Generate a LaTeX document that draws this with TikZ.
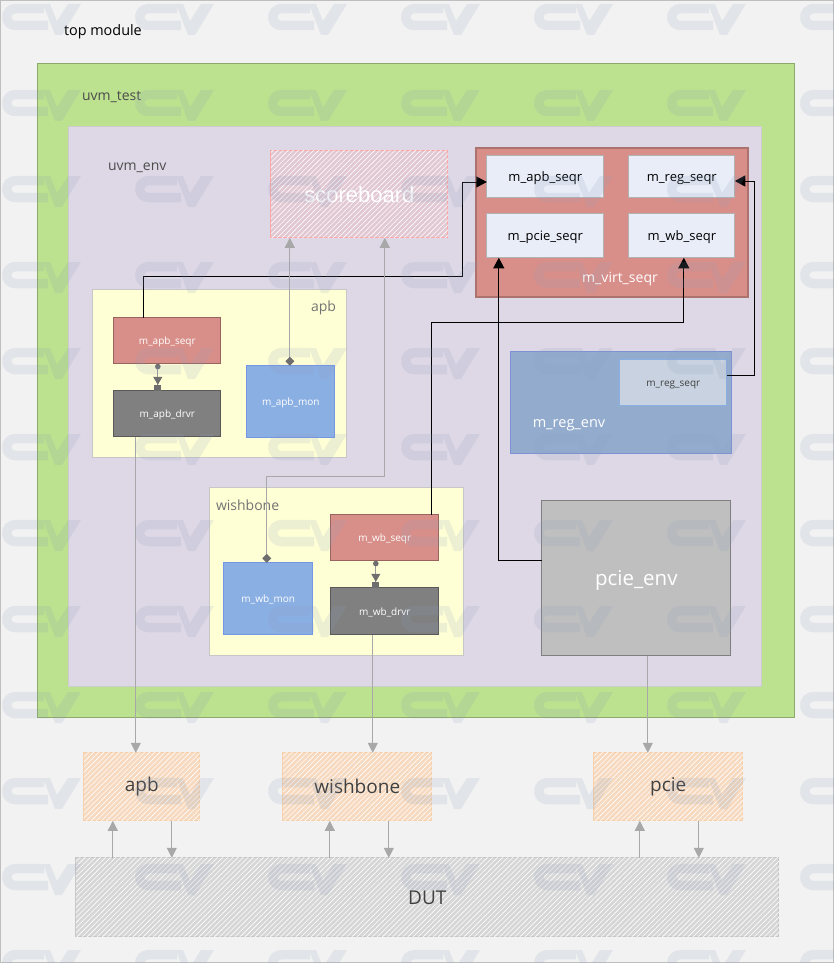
\documentclass[tikz,border=0pt]{standalone}
\usepackage{fontspec}
\setmainfont{Open Sans}
\newfontfamily\arialfont{Liberation Sans}
\usetikzlibrary{arrows.meta,patterns.meta}
\definecolor{pagebg}{HTML}{F2F2F2}
\definecolor{testgreen}{HTML}{BCE28F}
\definecolor{envlilac}{HTML}{DED8E6}
\definecolor{seqrred}{HTML}{D98F89}
\definecolor{seqrlite}{HTML}{E8EDF8}
\definecolor{agentyellow}{HTML}{FFFFD6}
\definecolor{monblue}{HTML}{8AAFE3}
\definecolor{regblue}{HTML}{93ACCE}
\definecolor{ifcorange}{HTML}{F6D9BE}
\definecolor{boardpink}{HTML}{E1C8D3}
\definecolor{wiregray}{HTML}{A8A8A8}
\definecolor{tipgray}{HTML}{6E6E6E}
\definecolor{logoblue}{HTML}{8C9CB8}
\tikzset{
  blockbox/.style={draw,rectangle,inner sep=0pt,outer sep=0pt,line width=1pt,align=center,xshift=-.2pt,yshift=.2pt},
  hatched/.style={postaction={pattern={Lines[angle=45,distance=3.6pt,line width=.6pt]},pattern color=white}},
  seqrbox/.style={blockbox,fill=seqrred,draw=seqrred!70!black,text=white,text height=7.5pt,text depth=0pt,font=\fontsize{10}{11}\selectfont},
  drvrbox/.style={blockbox,fill=black!50,draw=black!65,text=white,text height=7.5pt,text depth=0pt,font=\fontsize{10}{11}\selectfont},
  monbox/.style={blockbox,fill=monblue,draw=monblue!85!blue,text=white,text height=7.5pt,text depth=0pt,font=\fontsize{10}{11}\selectfont},
  subseqr/.style={blockbox,fill=seqrlite,draw=black!30,text=black,text height=10pt,text depth=0pt,font=\fontsize{13}{14}\selectfont},
  agentbox/.style={blockbox,fill=agentyellow,draw=black!22},
  ifcbox/.style={blockbox,fill=ifcorange,draw=ifcorange!90!orange,hatched,text=black!75,font=\fontsize{19}{22}\selectfont},
  blackwire/.style={draw=black,line width=1pt,-{Triangle[length=10.5pt,width=11pt]}},
  graywire/.style={draw=wiregray,line width=1pt,-{Triangle[length=10pt,width=10pt]}},
  monwire/.style={draw=wiregray,line width=1pt,{Diamond[length=9pt,width=9pt,fill=tipgray,color=tipgray]}-{Triangle[length=10pt,width=10pt]}},
  drvwire/.style={draw=tipgray!70,line width=1pt,{Circle[length=5.5pt,fill=tipgray,color=tipgray]}-{Triangle[length=8pt,width=9pt,fill=tipgray,color=tipgray]Square[length=6pt,width=7pt,fill=tipgray,color=tipgray]}},
  tag/.style={inner sep=0pt,outer sep=0pt}
}
\begin{document}
\begin{tikzpicture}[x=1pt,y=-1pt]
\useasboundingbox (0,0) rectangle (834,963);
% page
\node[blockbox,fill=pagebg,draw=black!25,line width=1.5pt,minimum width=833pt,minimum height=962pt] (page) at (417,481.5) {};
\node[tag,anchor=west,font=\fontsize{14.4}{16}\selectfont] (topname) at (64,32) {top module};
% nested blocks
\node[blockbox,fill=testgreen,draw=testgreen!75!black,minimum width=757pt,minimum height=654pt] (uvmtest) at (416.5,391) {};
\node[tag,anchor=west,text=black!70,font=\fontsize{14}{16}\selectfont] (testname) at (82,97) {uvm\_test};
\node[blockbox,fill=envlilac,draw=black!20,minimum width=693pt,minimum height=560pt] (uvmenv) at (415.5,407) {};
\node[tag,anchor=west,text=black!70,font=\fontsize{14}{16}\selectfont] (envname) at (108,168) {uvm\_env};
\node[blockbox,fill=boardpink,draw=red!35!white,hatched,text=white,minimum width=177pt,minimum height=87pt,font=\arialfont\fontsize{22}{24}\selectfont] (scoreboard) at (359.5,194.5) {scoreboard};
% virtual sequencer
\node[blockbox,fill=seqrred,draw=seqrred!80!black,line width=1.5pt,minimum width=272pt,minimum height=149pt] (virtseqr) at (612,222.5) {};
\node[tag,text=white,font=\fontsize{14}{16}\selectfont] (virtname) at (620,279.5) {m\_virt\_seqr};
\node[subseqr,minimum width=117pt,minimum height=42pt] (vapbseqr) at (545.5,177) {m\_apb\_seqr};
\node[subseqr,minimum width=106pt,minimum height=42pt] (vregseqr) at (682,177) {m\_reg\_seqr};
\node[subseqr,minimum width=117pt,minimum height=44pt] (vpcieseqr) at (545.5,236) {m\_pcie\_seqr};
\node[subseqr,minimum width=106pt,minimum height=44pt] (vwbseqr) at (682,236) {m\_wb\_seqr};
% apb agent
\node[agentbox,minimum width=254pt,minimum height=168pt] (apbagent) at (220,374) {};
\node[tag,anchor=east,text=black!55,font=\fontsize{14}{16}\selectfont] (apbname) at (336,308) {apb};
\node[seqrbox,minimum width=107pt,minimum height=46pt] (apbseqr) at (167.5,341) {m\_apb\_seqr};
\node[drvrbox,minimum width=107pt,minimum height=46pt] (apbdrvr) at (167.5,414) {m\_apb\_drvr};
\node[monbox,minimum width=88pt,minimum height=72pt] (apbmon) at (291,402) {m\_apb\_mon};
% wishbone agent
\node[agentbox,minimum width=254pt,minimum height=168pt] (wbagent) at (337,572) {};
\node[tag,anchor=west,text=black!55,font=\fontsize{14}{16}\selectfont] (wbname) at (216,505) {wishbone};
\node[seqrbox,minimum width=108pt,minimum height=46pt] (wbseqr) at (385,538) {m\_wb\_seqr};
\node[drvrbox,minimum width=108pt,minimum height=47pt] (wbdrvr) at (385,611.5) {m\_wb\_drvr};
\node[monbox,minimum width=89pt,minimum height=72pt] (wbmon) at (268.5,599) {m\_wb\_mon};
% reg and pcie env
\node[blockbox,fill=regblue,draw=regblue!85!blue,minimum width=221pt,minimum height=102pt] (regenv) at (621.5,403) {};
\node[tag,text=white,font=\fontsize{14.5}{16}\selectfont] (regname) at (569,425) {m\_reg\_env};
\node[blockbox,fill=black!10!regblue!45!white,draw=monblue,text=black!75,text height=7.5pt,text depth=0pt,minimum width=107pt,minimum height=46pt,font=\fontsize{10}{11}\selectfont] (regseqr) at (673.5,383) {m\_reg\_seqr};
\node[blockbox,fill=black!25,draw=black!50,text=white,text height=15pt,text depth=0pt,minimum width=189pt,minimum height=155pt,font=\fontsize{20.5}{24}\selectfont] (pcieenv) at (636.5,578.5) {pcie\_env};
% interfaces and dut
\node[ifcbox,minimum width=116pt,minimum height=68pt] (apbifc) at (142,787) {apb};
\node[ifcbox,minimum width=149pt,minimum height=68pt] (wbifc) at (357.5,787) {wishbone};
\node[ifcbox,minimum width=149pt,minimum height=68pt] (pcieifc) at (668.5,787) {pcie};
\node[blockbox,fill=black!16,draw=black!22,hatched,text=black!75,minimum width=703pt,minimum height=79pt,font=\fontsize{19}{22}\selectfont] (dut) at (427.5,897.5) {DUT};
% black connectors
\draw[blackwire] ([xshift=-23.5pt]apbseqr.north) |- ++(319,-41) |- (vapbseqr.west |- 0,182);
\draw[blackwire] ([xshift=47pt]wbseqr.north) |- ++(252,-192) -- ([xshift=2pt]vwbseqr.south);
\draw[blackwire] (pcieenv.west |- 0,560) -| ([xshift=-46.5pt]vpcieseqr.south);
\draw[blackwire] (regseqr.east |- 0,375) -| ++(28,-194) -- (vregseqr.east |- 0,181);
% gray connectors
\draw[monwire] ([xshift=-1pt]apbmon.north) -- ([xshift=-69.5pt]scoreboard.south);
\draw[monwire] ([xshift=-1.5pt]wbmon.north) |- ++(118,-86) -- ([xshift=25.5pt]scoreboard.south);
\draw[drvwire] ([xshift=-9.5pt]apbseqr.south) -- ([xshift=-9.5pt]apbdrvr.north);
\draw[drvwire] ([xshift=-9pt]wbseqr.south) -- ([xshift=-9pt]wbdrvr.north);
\draw[graywire] ([xshift=-31.5pt]apbdrvr.south) -- ([xshift=-6pt]apbifc.north);
\draw[graywire] ([xshift=-12pt]wbdrvr.south) -- ([xshift=15.5pt]wbifc.north);
\draw[graywire] ([xshift=11.5pt]pcieenv.south) -- ([xshift=-20.5pt]pcieifc.north);
\draw[graywire] ([xshift=-29pt]apbifc.south |- dut.north) -- ([xshift=-29pt]apbifc.south);
\draw[graywire] ([xshift=30pt]apbifc.south) -- ([xshift=30pt]apbifc.south |- dut.north);
\draw[graywire] ([xshift=-27.5pt]wbifc.south |- dut.north) -- ([xshift=-27.5pt]wbifc.south);
\draw[graywire] ([xshift=31.5pt]wbifc.south) -- ([xshift=31.5pt]wbifc.south |- dut.north);
\draw[graywire] ([xshift=-28.5pt]pcieifc.south |- dut.north) -- ([xshift=-28.5pt]pcieifc.south);
\draw[graywire] ([xshift=30.5pt]pcieifc.south) -- ([xshift=30.5pt]pcieifc.south |- dut.north);
% logo
\begin{scope}[transparency group,opacity=.16]
\clip (0,0) rectangle (834,963);
\foreach \i in {0,...,6}
  \foreach \j in {0,...,11}{
    \begin{scope}[shift={(133*\i,86*\j)}]
      \draw[logoblue,line width=9.5pt,rounded corners=8.5pt] (44,8.7) -- (6.7,8.7) -- (6.7,25.5) -- (48,25.5);
      \fill[logoblue] (43,4) -- (55,35) -- (62,35) -- (81,4) -- (68,4) -- (57,21) -- (50,4) -- cycle;
    \end{scope}
  }
\end{scope}
\end{tikzpicture}
\end{document}
